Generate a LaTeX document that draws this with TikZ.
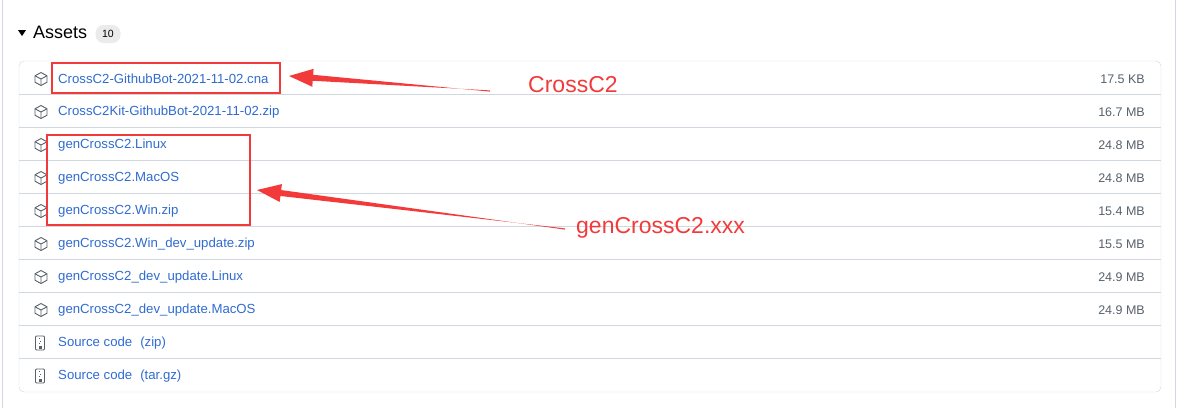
\documentclass[tikz,border=0pt]{standalone}
\usepackage{fontspec}
\setmainfont{Liberation Sans}
\usetikzlibrary{calc}
\definecolor{lnk}{HTML}{2F6BD0}
\definecolor{gry}{HTML}{57606A}
\definecolor{bdr}{HTML}{D0D7DE}
\definecolor{rd}{HTML}{F23A3A}
\begin{document}
\begin{tikzpicture}[x=1pt,y=-1pt,
  link/.style={anchor=west,text=lnk,font=\fontsize{13.2}{15}\selectfont,inner sep=0},
  size/.style={anchor=east,text=gry,font=\fontsize{12.5}{15}\selectfont,inner sep=0},
  redbox/.style={draw=rd,line width=2.4pt},
  redlbl/.style={text=rd,font=\fontsize{23}{26}\selectfont,inner sep=0}]
\useasboundingbox (0,0) rectangle (1178,415);
\draw[bdr] (2.5,0) -- (2.5,408);
\draw[bdr] (1175.5,0) -- (1175.5,408);
\fill (18,30) -- (26,30) -- (22,36) -- cycle;
\node[anchor=west,inner sep=0,font=\fontsize{18}{20}\selectfont] (title) at (33,32) {Assets};
\node[fill=black!8,rounded corners=8pt,inner sep=2pt,minimum width=25,minimum height=18,font=\fontsize{10.5}{12}\selectfont] (badge) at (108,34) {10};
\draw[bdr,rounded corners=5pt] (19,61) rectangle (1161,392);
\foreach \i in {1,...,9} \draw[bdr] (19,{61+33*\i}) -- (1161,{61+33*\i});
\foreach \n/\t/\s [count=\k from 0] in {
 r1/CrossC2-GithubBot-2021-11-02.cna/17.5 KB,
 r2/CrossC2Kit-GithubBot-2021-11-02.zip/16.7 MB,
 r3/genCrossC2.Linux/24.8 MB,
 r4/genCrossC2.MacOS/24.8 MB,
 r5/genCrossC2.Win.zip/15.4 MB,
 r6/genCrossC2.Win\_dev\_update.zip/15.5 MB,
 r7/genCrossC2\_dev\_update.Linux/24.9 MB,
 r8/genCrossC2\_dev\_update.MacOS/24.9 MB}{
  \pgfmathsetmacro\yy{79+33*\k}
  \node[link] (\n) at (58,\yy) {\t};
  \node[size] (s\n) at (1145,\yy) {\s};
  \begin{scope}[shift={(41,\yy)},gry,line width=0.9pt]
    \draw (0,-6.5) -- (6,-3.2) -- (6,3.2) -- (0,6.5) -- (-6,3.2) -- (-6,-3.2) -- cycle;
    \draw (-6,-3.2) -- (0,0) -- (6,-3.2) (0,0) -- (0,6.5);
  \end{scope}
}
\foreach \n/\t [count=\k from 8] in {r9/(zip),r10/(tar.gz)}{
  \pgfmathsetmacro\yy{79+33*\k}
  \node[link] (\n) at (58,\yy) {Source code\hspace{8pt}\t};
  \begin{scope}[shift={(40,\yy)},gry,line width=0.9pt]
    \draw[rounded corners=1pt] (-4.5,-7) rectangle (4.5,7);
    \draw (-1,-4.5) -- (0,-4.5) (0,-2) -- (1,-2) (-1,0.5) -- (0,0.5);
    \fill (-1.5,2.5) rectangle (1.5,6);
  \end{scope}
}
\draw[redbox] (52,63) rectangle (280,93);
\draw[redbox] (47,135) rectangle (250,225);
\node[redlbl,anchor=west] (l1) at (528,85) {CrossC2};
\node[redlbl,anchor=west] (l2) at (576,228) {genCrossC2.xxx};
\coordinate (t1) at (289,76);
\coordinate (e1) at (490,91);
\coordinate (t2) at (257,190);
\coordinate (e2) at (565,229);
\foreach \t/\e in {t1/e1,t2/e2}{
  \coordinate (b) at ($(\t)!24pt!(\e)$);
  \fill[rd] (\t) -- ($(b)!9pt!90:(\t)$) -- ($(b)!3pt!90:(\t)$) -- ($(\e)!0.6pt!-90:(\t)$)
     -- ($(\e)!0.6pt!90:(\t)$) -- ($(b)!3pt!-90:(\t)$) -- ($(b)!9pt!-90:(\t)$) -- cycle;
}
\end{tikzpicture}
\end{document}
